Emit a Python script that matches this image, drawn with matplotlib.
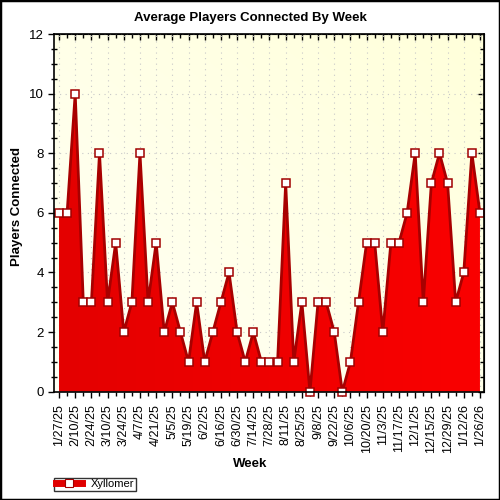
import matplotlib
matplotlib.use("Agg")
import matplotlib.pyplot as plt
import numpy as np
from matplotlib.patches import Rectangle
from matplotlib.lines import Line2D
from matplotlib.ticker import MultipleLocator

weeks = ["1/27/25", "2/3/25", "2/10/25", "2/17/25", "2/24/25", "3/3/25", "3/10/25", "3/17/25",
         "3/24/25", "3/31/25", "4/7/25", "4/14/25", "4/21/25", "4/28/25", "5/5/25", "5/12/25",
         "5/19/25", "5/26/25", "6/2/25", "6/9/25", "6/16/25", "6/23/25", "6/30/25", "7/7/25",
         "7/14/25", "7/21/25", "7/28/25", "8/4/25", "8/11/25", "8/18/25", "8/25/25", "9/1/25",
         "9/8/25", "9/15/25", "9/22/25", "9/29/25", "10/6/25", "10/13/25", "10/20/25", "10/27/25",
         "11/3/25", "11/10/25", "11/17/25", "11/24/25", "12/1/25", "12/8/25", "12/15/25",
         "12/22/25", "12/29/25", "1/5/26", "1/12/26", "1/19/26", "1/26/26"]
players = [6, 6, 10, 3, 3, 8, 3, 5, 2, 3, 8, 3, 5, 2, 3, 2, 1, 3, 1, 2, 3, 4, 2, 1, 2,
           1, 1, 1, 7, 1, 3, 0, 3, 3, 2, 0, 1, 3, 5, 5, 2, 5, 5, 6, 8, 3, 7, 8, 7, 3, 4, 8, 6]
series_name = "Xyllomer"
title = "Average Players Connected By Week"

plt.rcParams['font.family'] = ['Liberation Sans', 'DejaVu Sans']

fig = plt.figure(figsize=(5, 5), dpi=100)
ax = fig.add_axes([54/500, 1-391.7/500, (484-54)/500, (391.7-34)/500])

x = np.arange(len(players))
y = np.array(players, dtype=float)
xmin, xmax = -0.62, len(players) - 1 + 0.5
ax.set_xlim(xmin, xmax)
ax.set_ylim(0, 12)

# background gradient
gx = np.linspace(0, 1, 200)
gy = np.linspace(0, 1, 200)
GX, GY = np.meshgrid(gx, gy)
t = (GX + GY) / 2
c0 = np.array([255, 255, 246]) / 255
c1 = np.array([255, 255, 218]) / 255
bg = c0[None, None, :] * (1 - t[..., None]) + c1[None, None, :] * t[..., None]
ax.imshow(bg, extent=[xmin, xmax, 0, 12], origin='lower', aspect='auto', zorder=0)

ax.grid(True, which='major', color='#c8c8c8', linestyle=(0, (1, 4)), linewidth=0.8, zorder=1)

# red fill gradient
poly = ax.fill_between(x, 0, y, color='none', zorder=2)
fx = np.linspace(0, 1, 300)
f0 = np.array([228, 0, 0]) / 255
f1 = np.array([250, 0, 0]) / 255
fg = f0[None, None, :] * (1 - fx[None, :, None]) + f1[None, None, :] * fx[None, :, None]
fg = np.repeat(fg, 2, axis=0)
im = ax.imshow(fg, extent=[x[0], x[-1], 0, 12], origin='lower', aspect='auto', zorder=2)
path = poly.get_paths()[0]
im.set_clip_path(path, transform=ax.transData)

ax.plot(x, y, color='#a80000', linewidth=2.0, zorder=3)
ax.plot(x, y, linestyle='none', marker='s', markersize=5.3, markerfacecolor='white',
        markeredgecolor='#a00000', markeredgewidth=1.1, zorder=5, clip_on=False)

ax.set_xticks(x[::2])
ax.set_xticklabels(weeks[::2], rotation=90, fontsize=9)
ax.xaxis.set_minor_locator(MultipleLocator(1))
ax.yaxis.set_major_locator(MultipleLocator(2))
ax.yaxis.set_minor_locator(MultipleLocator(0.5))
ax.tick_params(axis='x', which='major', direction='out', length=4, width=1, pad=5)
ax.tick_params(axis='x', which='minor', direction='out', length=3, width=1)
ax.tick_params(axis='y', which='major', direction='out', length=4, width=1, labelsize=9.5)
ax.tick_params(axis='y', which='minor', direction='inout', length=4, width=1)

for s in ax.spines.values():
    s.set_linewidth(1.2)
    s.set_zorder(6)

secx = ax.secondary_xaxis('top')
secx.set_xticks(x[::2])
secx.xaxis.set_minor_locator(MultipleLocator(1))
secx.tick_params(which='major', direction='in', length=4, width=1, labeltop=False)
secx.tick_params(which='minor', direction='in', length=3, width=1)
secy = ax.secondary_yaxis('right')
secy.yaxis.set_major_locator(MultipleLocator(2))
secy.yaxis.set_minor_locator(MultipleLocator(0.5))
secy.tick_params(which='major', direction='in', length=4, width=1, labelright=False)
secy.tick_params(which='minor', direction='in', length=3, width=1)

fig.text(0.5, 1-18/500, title, ha='center', va='center', fontsize=9.5, fontweight='bold')
fig.text(0.5, 1-464/500, "Week", ha='center', va='center', fontsize=9.5, fontweight='bold')
fig.text(17/500, 1-207/500, "Players Connected", ha='center', va='center', rotation=90,
         fontsize=9.5, fontweight='bold')

# legend
handle = Line2D([], [], color='#e00000', linewidth=5, marker='s', markersize=5.5,
                markerfacecolor='white', markeredgecolor='#a00000', markeredgewidth=0.8)
leg = fig.legend([handle], [series_name], loc='lower left',
                 bbox_to_anchor=(54/500, 1-491/500), fontsize=8, frameon=True,
                 fancybox=False, edgecolor='black', handlelength=2.4, borderpad=0.15,
                 handletextpad=0.8, borderaxespad=0)
leg.get_frame().set_linewidth(1.0)

fig.patches.append(Rectangle((0, 0), 1, 1, transform=fig.transFigure, fill=False,
                             edgecolor='black', linewidth=2.5, zorder=10))

fig.savefig("out.png", dpi=100)
